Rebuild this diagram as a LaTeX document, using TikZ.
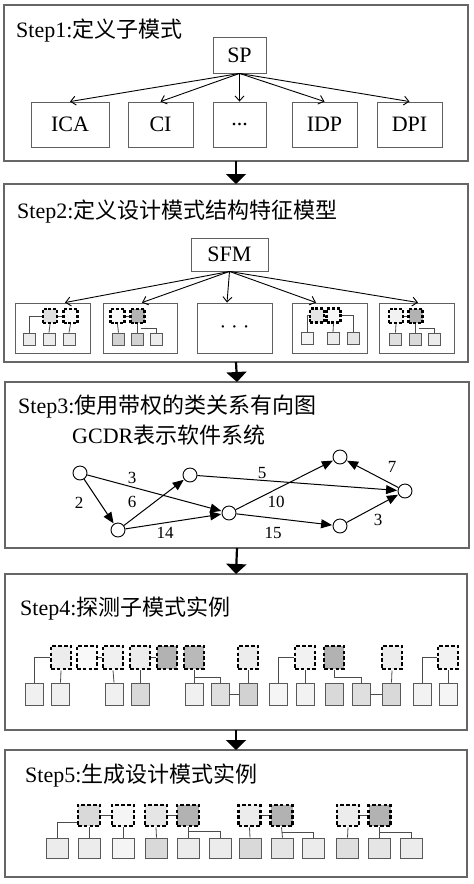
\documentclass[tikz,border=0pt]{standalone}
\usepackage{fontspec}
\setmainfont{Liberation Serif}
\newfontfamily\cjk{Noto Sans CJK SC}
\usetikzlibrary{arrows.meta,calc}
\begin{document}
\begin{tikzpicture}[x=1pt,y=-1pt,
  panel/.style={draw=gray!80!black,line width=1.1pt,inner sep=0,outer sep=0,fill=white},
  title/.style={anchor=base west,inner sep=0,font=\fontsize{22}{26}\selectfont},
  bigbox/.style={draw=gray!75!black,line width=0.9pt,inner sep=0,font=\fontsize{22}{26}\selectfont},
  bigarrow/.style={line width=2.2pt,-{Triangle[length=10pt,width=20pt]}},
  openarrow/.style={line width=0.9pt,-{Straight Barb[length=5pt,width=9pt]}},
  gnode/.style={circle,draw,line width=0.9pt,minimum size=14pt,inner sep=0,fill=white},
  garrow/.style={line width=1pt,shorten >=0.5pt,-{Triangle[length=11pt,width=9pt]}},
  lbl/.style={inner sep=0,font=\fontsize{17}{20}\selectfont},
  dsqA/.style={draw,line width=2.1pt,dash pattern=on 3pt off 1.8pt,minimum width=14pt,minimum height=14pt,inner sep=0},
  ssqA/.style={draw=gray!70!black,line width=0.7pt,minimum width=12pt,minimum height=12pt,inner sep=0},
  dsqB/.style={draw,line width=2.6pt,dash pattern=on 3.6pt off 2.2pt,minimum width=20pt,minimum height=23pt,inner sep=0},
  ssqB/.style={draw=gray!70!black,line width=0.8pt,minimum width=18pt,minimum height=22pt,inner sep=0},
  dsqC/.style={draw,line width=2.6pt,dash pattern=on 3.6pt off 2.2pt,minimum width=22pt,minimum height=21pt,inner sep=0},
  ssqC/.style={draw=gray!70!black,line width=0.8pt,minimum width=22pt,minimum height=20pt,inner sep=0},
  wire/.style={draw=gray!60!black,line width=0.8pt}
]
\fill[white] (0,0) rectangle (474,884);
\useasboundingbox (0,0) rectangle (474,884);

% ---------- panels ----------
\node[panel,minimum width=464pt,minimum height=156pt] (p1) at (236,83) {};
\node[panel,minimum width=464pt,minimum height=178pt] (p2) at (236,273) {};
\node[panel,minimum width=464pt,minimum height=166pt] (p3) at (237,465) {};
\node[panel,minimum width=462pt,minimum height=156pt] (p4) at (236,652) {};
\node[panel,minimum width=462pt,minimum height=127pt] (p5) at (236,813.5) {};

\draw[bigarrow] (p1.south) -- (p2.north);
\draw[bigarrow] (p2.south) -- (p3.north);
\draw[bigarrow] (p3.south) -- (p4.north);
\draw[bigarrow] (p4.south) -- (p5.north);

% ---------- Step 1 ----------
\node[title] (t1) at (16,37) {Step1:{\cjk 定义子模式}};
\node[bigbox,minimum width=53pt,minimum height=36pt] (sp) at (239.5,55) {SP};
\node[bigbox,minimum width=78pt,minimum height=45pt] (ica) at (70,124.5) {ICA};
\node[bigbox,minimum width=65pt,minimum height=45pt] (ci) at (160.5,124.5) {CI};
\node[bigbox,minimum width=53pt,minimum height=45pt] (dd) at (239.5,124.5) {...};
\node[bigbox,minimum width=65pt,minimum height=45pt] (idp) at (324.5,124.5) {IDP};
\node[bigbox,minimum width=65pt,minimum height=45pt] (dpi) at (409.5,124.5) {DPI};
\draw[openarrow] (sp.south) -- (ica.north);
\draw[openarrow] (sp.south) -- (ci.north);
\draw[openarrow] (sp.south) -- (dd.north);
\draw[openarrow] (sp.south) -- (idp.north);
\draw[openarrow] (sp.south) -- (dpi.north);

% ---------- Step 2 ----------
\node[title] (t2) at (17,218) {Step2:{\cjk 定义设计模式结构特征模型}};
\node[bigbox,minimum width=77pt,minimum height=33pt] (sfm) at (229.5,254.5) {SFM};
\node[bigbox,minimum width=75pt,minimum height=50pt] (sb1) at (52.5,328) {};
\node[bigbox,minimum width=74pt,minimum height=50pt] (sb2) at (140,328) {};
\node[bigbox,minimum width=75pt,minimum height=50pt] (sb3) at (234.5,328) {};
\node[bigbox,minimum width=75pt,minimum height=50pt] (sb4) at (329.5,328) {};
\node[bigbox,minimum width=75pt,minimum height=50pt] (sb5) at (416.5,328) {};
\node[inner sep=0,font=\fontsize{20}{22}\selectfont] (sbdots) at (234.5,330) {· · ·};
\draw[openarrow] (sfm.south) -- ([xshift=12.5pt]sb1.north);
\draw[openarrow] (sfm.south) -- ([xshift=2pt]sb2.north);
\draw[openarrow] (sfm.south) -- ([xshift=-7.5pt]sb3.north);
\draw[openarrow] (sfm.south) -- ([xshift=-13.5pt]sb4.north);
\draw[openarrow] (sfm.south) -- ([xshift=1.5pt]sb5.north);

% box 1
\node[dsqA,fill=gray!25] (b1d1) at (50,316) {};
\node[dsqA,fill=gray!6] (b1d2) at (70.5,316) {};
\node[ssqA,fill=gray!15] (b1s1) at (29,339) {};
\node[ssqA,fill=gray!15] (b1s2) at (49,339) {};
\node[ssqA,fill=gray!15] (b1s3) at (69,339) {};
\draw[wire] (b1d1.west) -| (b1s1.north);
\draw[wire] (b1d1.south) -- (b1s2.north);
\draw[wire] (b1d2.south) -- (b1s3.north);
\draw[wire] (b1d1.east) -- (b1d2.west);
% box 2
\node[dsqA,fill=gray!6] (b2d1) at (117.5,316) {};
\node[dsqA,fill=gray!60] (b2d2) at (137.5,316) {};
\node[ssqA,fill=gray!35] (b2s1) at (118.5,339) {};
\node[ssqA,fill=gray!35] (b2s2) at (137.5,339) {};
\node[ssqA,fill=gray!15] (b2s3) at (156.5,339) {};
\draw[wire] (b2d1.south) -- (b2s1.north);
\draw[wire] (b2d2.south) -- (b2s2.north);
\draw[wire] ($(b2d2.south)+(3,4)$) -| (b2s3.north);
\draw[wire] (b2d1.east) -- (b2d2.west);
% box 4
\node[dsqA,fill=gray!20] (b4d1) at (317,315.5) {};
\node[dsqA,fill=gray!6] (b4d2) at (333.5,315.5) {};
\node[ssqA,fill=gray!8] (b4s1) at (307,338.5) {};
\node[ssqA,fill=gray!15] (b4s2) at (333,338.5) {};
\node[ssqA,fill=gray!20] (b4s3) at (353.5,338.5) {};
\draw[wire] (b4d1.west) -| (b4s1.north);
\draw[wire] (b4d2.south) -- (b4s2.north);
\draw[wire] (b4d2.east) -| (b4s3.north);
\draw[wire] (b4d1.east) -- (b4d2.west);
% box 5
\node[dsqA,fill=gray!10] (b5d1) at (396,316) {};
\node[dsqA,fill=gray!60] (b5d2) at (415.5,316) {};
\node[ssqA,fill=gray!25] (b5s1) at (395.5,339) {};
\node[ssqA,fill=gray!30] (b5s2) at (415.5,339) {};
\node[ssqA,fill=gray!15] (b5s3) at (434.5,339) {};
\draw[wire] (b5d1.south) -- (b5s1.north);
\draw[wire] (b5d2.south) -- (b5s2.north);
\draw[wire] ($(b5d2.south)+(3,4)$) -| (b5s3.north);
\draw[wire] (b5d1.east) -- (b5d2.west);

% ---------- Step 3 ----------
\node[title] (t3a) at (18,413) {Step3:{\cjk 使用带权的类关系有向图}};
\node[title] (t3b) at (72,443) {GCDR{\cjk 表示软件系统}};
\node[gnode] (A) at (80,473) {};
\node[gnode] (B) at (118,530) {};
\node[gnode] (C) at (190,475) {};
\node[gnode] (D) at (229,513) {};
\node[gnode] (E) at (340,457) {};
\node[gnode] (F) at (405,491) {};
\node[gnode] (G) at (340,526) {};
\draw[garrow] (A) -- (B);
\draw[garrow] (A) -- (D);
\draw[garrow] (B) -- (C);
\draw[garrow] (B) -- (D);
\draw[garrow] (C) -- (F);
\draw[garrow] (D) -- (E);
\draw[garrow] (D) -- (G);
\draw[garrow] (G) -- (F);
\draw[garrow] (F) -- (E);
\node[lbl] (w1) at (79,503) {2};
\node[lbl] (w2) at (132,478) {3};
\node[lbl] (w3) at (132,502) {6};
\node[lbl] (w4) at (165,533) {14};
\node[lbl] (w5) at (262,473) {5};
\node[lbl] (w6) at (276,502) {10};
\node[lbl] (w7) at (273,533) {15};
\node[lbl] (w8) at (378,520) {3};
\node[lbl] (w9) at (392,467) {7};

% ---------- Step 4 ----------
\node[title] (t4) at (20,615) {Step4:{\cjk 探测子模式实例}};
\node[dsqB,fill=gray!15] (q1) at (61,657.5) {};
\node[dsqB,fill=gray!5] (q2) at (87,657.5) {};
\node[dsqB,fill=gray!12] (q3) at (113,657.5) {};
\node[dsqB,fill=gray!15] (q4) at (140,657.5) {};
\node[dsqB,fill=gray!60] (q5) at (167,657.5) {};
\node[dsqB,fill=gray!55] (q6) at (194,657.5) {};
\node[dsqB,fill=gray!15] (q7) at (248,657.5) {};
\node[dsqB,fill=gray!10] (q8) at (305,657.5) {};
\node[dsqB,fill=gray!60] (q9) at (334,657.5) {};
\node[dsqB,fill=gray!15] (q10) at (392,657.5) {};
\node[dsqB,fill=gray!10] (q11) at (448,657.5) {};
\node[ssqB,fill=gray!12] (r1) at (34,694) {};
\node[ssqB,fill=gray!12] (r2) at (60.5,694) {};
\node[ssqB,fill=gray!12] (r3) at (114,694) {};
\node[ssqB,fill=gray!30] (r4) at (140,694) {};
\node[ssqB,fill=gray!12] (r5) at (194,694) {};
\node[ssqB,fill=gray!25] (r6) at (220,694) {};
\node[ssqB,fill=gray!35] (r7) at (248,694) {};
\node[ssqB,fill=gray!8] (r8) at (278,694) {};
\node[ssqB,fill=gray!10] (r9) at (305,694) {};
\node[ssqB,fill=gray!30] (r10) at (334.5,694) {};
\node[ssqB,fill=gray!25] (r11) at (361,694) {};
\node[ssqB,fill=gray!30] (r12) at (391.5,694) {};
\node[ssqB,fill=gray!10] (r13) at (422,694) {};
\node[ssqB,fill=gray!8] (r14) at (448,694) {};
\draw[wire] (q1.west) -| (r1.north);
\draw[wire] (q1.south) -- (r2.north);
\draw[wire] (q2.east) -- (q3.west);
\draw[wire] (q3.south) -- (r3.north);
\draw[wire] (q4.south) -- (r4.north);
\draw[wire] (q4.east) -- (q5.west);
\draw[wire] (q6.south) -- (r5.north);
\draw[wire] ($(q6.south)+(0,7)$) -| (r6.north);
\draw[wire] (r6.east) -- (r7.west);
\draw[wire] (q7.south) -- (r7.north);
\draw[wire] (r8.north) |- (q8.west);
\draw[wire] (q8.south) -- (r9.north);
\draw[wire] (q9.south) -- ++(0,7) -| (r11.north);
\draw[wire] (r11.east) -- (r12.west);
\draw[wire] (q10.south) -- (r12.north);
\draw[wire] (r13.north) |- (q11.west);
\draw[wire] (q11.south) -- (r14.north);

% ---------- Step 5 ----------
\node[title] (t5) at (25,782) {Step5:{\cjk 生成设计模式实例}};
\node[dsqC,fill=gray!30] (v1) at (89,815.5) {};
\node[dsqC,fill=gray!8] (v2) at (123,815.5) {};
\node[dsqC,fill=gray!20] (v3) at (156,815.5) {};
\node[dsqC,fill=gray!60] (v4) at (188,815.5) {};
\node[dsqC,fill=gray!15] (v5) at (249.5,815.5) {};
\node[dsqC,fill=gray!60] (v6) at (281.5,815.5) {};
\node[dsqC,fill=gray!15] (v7) at (348,815.5) {};
\node[dsqC,fill=gray!60] (v8) at (379.5,815.5) {};
\node[ssqC,fill=gray!15] (u1) at (57.5,848) {};
\node[ssqC,fill=gray!15] (u2) at (89,848) {};
\node[ssqC,fill=gray!8] (u3) at (123,848) {};
\node[ssqC,fill=gray!30] (u4) at (156.5,848) {};
\node[ssqC,fill=gray!15] (u5) at (188,848) {};
\node[ssqC,fill=gray!15] (u6) at (220,848) {};
\node[ssqC,fill=gray!30] (u7) at (250,848) {};
\node[ssqC,fill=gray!20] (u8) at (282.5,848) {};
\node[ssqC,fill=gray!15] (u9) at (313.5,848) {};
\node[ssqC,fill=gray!25] (u10) at (347.5,848) {};
\node[ssqC,fill=gray!20] (u11) at (379.5,848) {};
\node[ssqC,fill=gray!15] (u12) at (411,848) {};
\draw[wire] ($(v1.west)+(0,7)$) -| (u1.north);
\draw[wire] (v1.south) -- (u2.north);
\draw[wire] (v1.east) -- (v2.west);
\draw[wire] (v2.south) -- (u3.north);
\draw[wire] (v3.south) -- (u4.north);
\draw[wire] (v3.east) -- (v4.west);
\draw[wire] (v4.south) -- (u5.north);
\draw[wire] ($(v4.south)+(0,4)$) -| (u6.north);
\draw[wire] (v5.south) -- (u7.north);
\draw[wire] (v5.east) -- (v6.west);
\draw[wire] (v6.south) -- (u8.north);
\draw[wire] ($(v6.south)+(0,5)$) -| (u9.north);
\draw[wire] (v7.south) -- (u10.north);
\draw[wire] (v7.east) -- (v8.west);
\draw[wire] (v8.south) -- (u11.north);
\draw[wire] ($(v8.south)+(0,5)$) -| (u12.north);
\end{tikzpicture}
\end{document}
